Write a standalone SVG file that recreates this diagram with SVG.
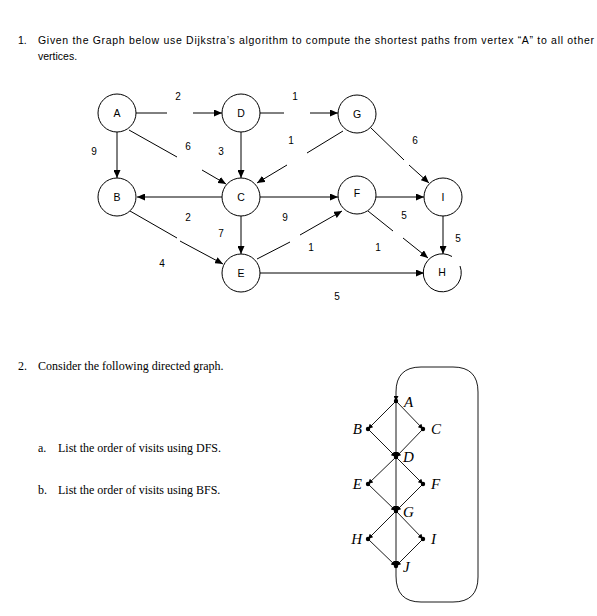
<svg xmlns="http://www.w3.org/2000/svg" width="597" height="616" viewBox="0 0 597 616">
<style>
.t{font-family:"Liberation Sans",Arial,sans-serif;font-size:10.5px;fill:#000}
.s{font-family:"Liberation Serif","Times New Roman",serif;font-size:12px;fill:#000}
.nl{font-family:"Liberation Sans",Arial,sans-serif;font-size:10.5px;text-anchor:middle;fill:#000}
.w{font-family:"Liberation Sans",Arial,sans-serif;font-size:10px;text-anchor:middle;fill:#000}
.c{fill:#fff;stroke:#000;stroke-width:1}
.e{stroke:#000;stroke-width:1;fill:none}
.ea{stroke:#000;stroke-width:1;fill:none;marker-end:url(#ah)}
.da{stroke:#000;stroke-width:0.9;fill:none;marker-end:url(#sa)}
.dot{fill:#000}
.il{font-family:"Liberation Serif","Times New Roman",serif;font-style:italic;font-size:15px;fill:#000}
</style>
<defs>
<marker id="ah" markerUnits="userSpaceOnUse" markerWidth="9" markerHeight="7" refX="8" refY="3.5" orient="auto"><path d="M0,0 L8,3.5 L0,7 z" fill="#000"/></marker>
<marker id="sa" markerUnits="userSpaceOnUse" markerWidth="6" markerHeight="5" refX="5" refY="2.5" orient="auto"><path d="M0,0 L5,2.5 L0,5 z" fill="#000"/></marker>
</defs>

<g id="q1">
<text class="t" x="18" y="44">1.</text>
<text class="t" x="38" y="44" textLength="556" lengthAdjust="spacing">Given the Graph below use Dijkstra’s algorithm to compute the shortest paths from vertex “A” to all other</text>
<text class="t" x="38" y="60">vertices.</text>
</g>

<g id="connectors">
<line class="e" x1="136" y1="113" x2="167" y2="113"/>
<line class="ea" x1="193" y1="113" x2="222" y2="113"/>
<line class="e" x1="260" y1="113" x2="284" y2="113"/>
<line class="ea" x1="310" y1="113" x2="338" y2="113"/>
<line class="ea" x1="117" y1="132" x2="117" y2="178"/>
<line class="ea" x1="241" y1="132" x2="241" y2="178"/>
<line class="e" x1="129" y1="130" x2="177" y2="157"/>
<line class="ea" x1="202" y1="170" x2="226" y2="184"/>
<line class="e" x1="343" y1="131" x2="307" y2="153"/>
<line class="ea" x1="287" y1="165" x2="257" y2="183"/>
<line class="e" x1="370" y1="127" x2="404" y2="160"/>
<line class="ea" x1="409" y1="165" x2="429" y2="183"/>
<line class="ea" x1="222" y1="197" x2="137" y2="197"/>
<line class="ea" x1="260" y1="197" x2="338" y2="197"/>
<line class="ea" x1="376" y1="197" x2="424" y2="197"/>
<line class="ea" x1="241" y1="216" x2="241" y2="254"/>
<line class="ea" x1="443" y1="216" x2="443" y2="254"/>
<line class="e" x1="130" y1="211" x2="177" y2="238"/>
<line class="ea" x1="180" y1="241" x2="223" y2="264"/>
<line class="e" x1="257" y1="259" x2="290" y2="242"/>
<line class="ea" x1="300" y1="235" x2="342" y2="211"/>
<line class="e" x1="368" y1="211" x2="393" y2="231"/>
<line class="ea" x1="403" y1="238" x2="428" y2="258"/>
<line class="ea" x1="260" y1="273" x2="424" y2="273"/>
</g>

<g id="weights">
<text class="w" x="178" y="100">2</text>
<text class="w" x="295" y="100">1</text>
<text class="w" x="94" y="155">9</text>
<text class="w" x="188" y="150">6</text>
<text class="w" x="221" y="155">3</text>
<text class="w" x="291" y="144">1</text>
<text class="w" x="415" y="144">6</text>
<text class="w" x="188" y="221">2</text>
<text class="w" x="285" y="221">9</text>
<text class="w" x="404" y="219">5</text>
<text class="w" x="221" y="237">7</text>
<text class="w" x="458" y="242">5</text>
<text class="w" x="311" y="251">1</text>
<text class="w" x="378" y="251">1</text>
<text class="w" x="162" y="267">4</text>
<text class="w" x="337" y="300">5</text>
</g>

<g id="nA"><circle class="c" cx="117" cy="113" r="19"/><text class="nl" x="117" y="117">A</text></g>
<g id="nD"><circle class="c" cx="241" cy="113" r="19"/><text class="nl" x="241" y="117">D</text></g>
<g id="nG"><circle class="c" cx="357" cy="114" r="19"/><text class="nl" x="357" y="118">G</text></g>
<g id="nB"><circle class="c" cx="117" cy="197" r="19"/><text class="nl" x="117" y="201">B</text></g>
<g id="nC"><circle class="c" cx="241" cy="197" r="19"/><text class="nl" x="241" y="201">C</text></g>
<g id="nF"><circle class="c" cx="357" cy="195" r="19"/><text class="nl" x="357" y="197">F</text></g>
<g id="nI"><circle class="c" cx="443" cy="197" r="19"/><text class="nl" x="443" y="201">I</text></g>
<g id="nE"><circle class="c" cx="241" cy="273" r="19"/><text class="nl" x="241" y="277">E</text></g>
<g id="nH"><path class="e" d="M452,256.5 A19,19 0 1 0 460,266" fill="#fff"/><text class="nl" x="442" y="276">H</text></g>

<g id="q2">
<text class="s" x="18" y="370">2.</text>
<text class="s" x="38" y="370">Consider the following directed graph.</text>
<text class="s" x="38" y="452">a.</text>
<text class="s" x="58" y="452">List the order of visits using DFS.</text>
<text class="s" x="38" y="494">b.</text>
<text class="s" x="58" y="494">List the order of visits using BFS.</text>
</g>

<g id="dconnectors">
<line class="da" x1="396" y1="401" x2="368" y2="429"/>
<line class="da" x1="396" y1="401" x2="423" y2="429"/>
<line class="da" x1="368" y1="429" x2="396" y2="457"/>
<line class="da" x1="423" y1="429" x2="396" y2="457"/>
<line class="da" x1="396" y1="401" x2="396" y2="457"/>
<line class="da" x1="396" y1="457" x2="368" y2="484"/>
<line class="da" x1="396" y1="457" x2="423" y2="484"/>
<line class="da" x1="368" y1="484" x2="396" y2="511"/>
<line class="da" x1="423" y1="484" x2="396" y2="511"/>
<line class="da" x1="396" y1="457" x2="396" y2="511"/>
<line class="da" x1="396" y1="511" x2="368" y2="539"/>
<line class="da" x1="396" y1="511" x2="423" y2="539"/>
<line class="da" x1="368" y1="539" x2="396" y2="566"/>
<line class="da" x1="423" y1="539" x2="396" y2="566"/>
<line class="da" x1="396" y1="511" x2="396" y2="566"/>
<path class="da" d="M396,566 L396,576 Q396,602 421,602 L453,602 Q478,602 478,577 L478,392 Q478,367 453,367 L421,367 Q396,367 396,392 L396,401"/>
</g>

<g id="dA"><circle class="dot" cx="396" cy="401" r="2.2"/><text class="il" x="404" y="407">A</text></g>
<g id="dB"><circle class="dot" cx="368" cy="429" r="2.2"/><text class="il" x="362" y="434" text-anchor="end">B</text></g>
<g id="dC"><circle class="dot" cx="423" cy="429" r="2.2"/><text class="il" x="431" y="434">C</text></g>
<g id="dD"><circle class="dot" cx="396" cy="457" r="2.2"/><text class="il" x="403" y="462">D</text></g>
<g id="dE"><circle class="dot" cx="368" cy="484" r="2.2"/><text class="il" x="362" y="489" text-anchor="end">E</text></g>
<g id="dF"><circle class="dot" cx="423" cy="484" r="2.2"/><text class="il" x="431" y="489">F</text></g>
<g id="dG"><circle class="dot" cx="396" cy="511" r="2.2"/><text class="il" x="403" y="517">G</text></g>
<g id="dH"><circle class="dot" cx="368" cy="539" r="2.2"/><text class="il" x="362" y="544" text-anchor="end">H</text></g>
<g id="dI"><circle class="dot" cx="423" cy="539" r="2.2"/><text class="il" x="431" y="544">I</text></g>
<g id="dJ"><circle class="dot" cx="396" cy="566" r="2.2"/><text class="il" x="403" y="572">J</text></g>
</svg>
